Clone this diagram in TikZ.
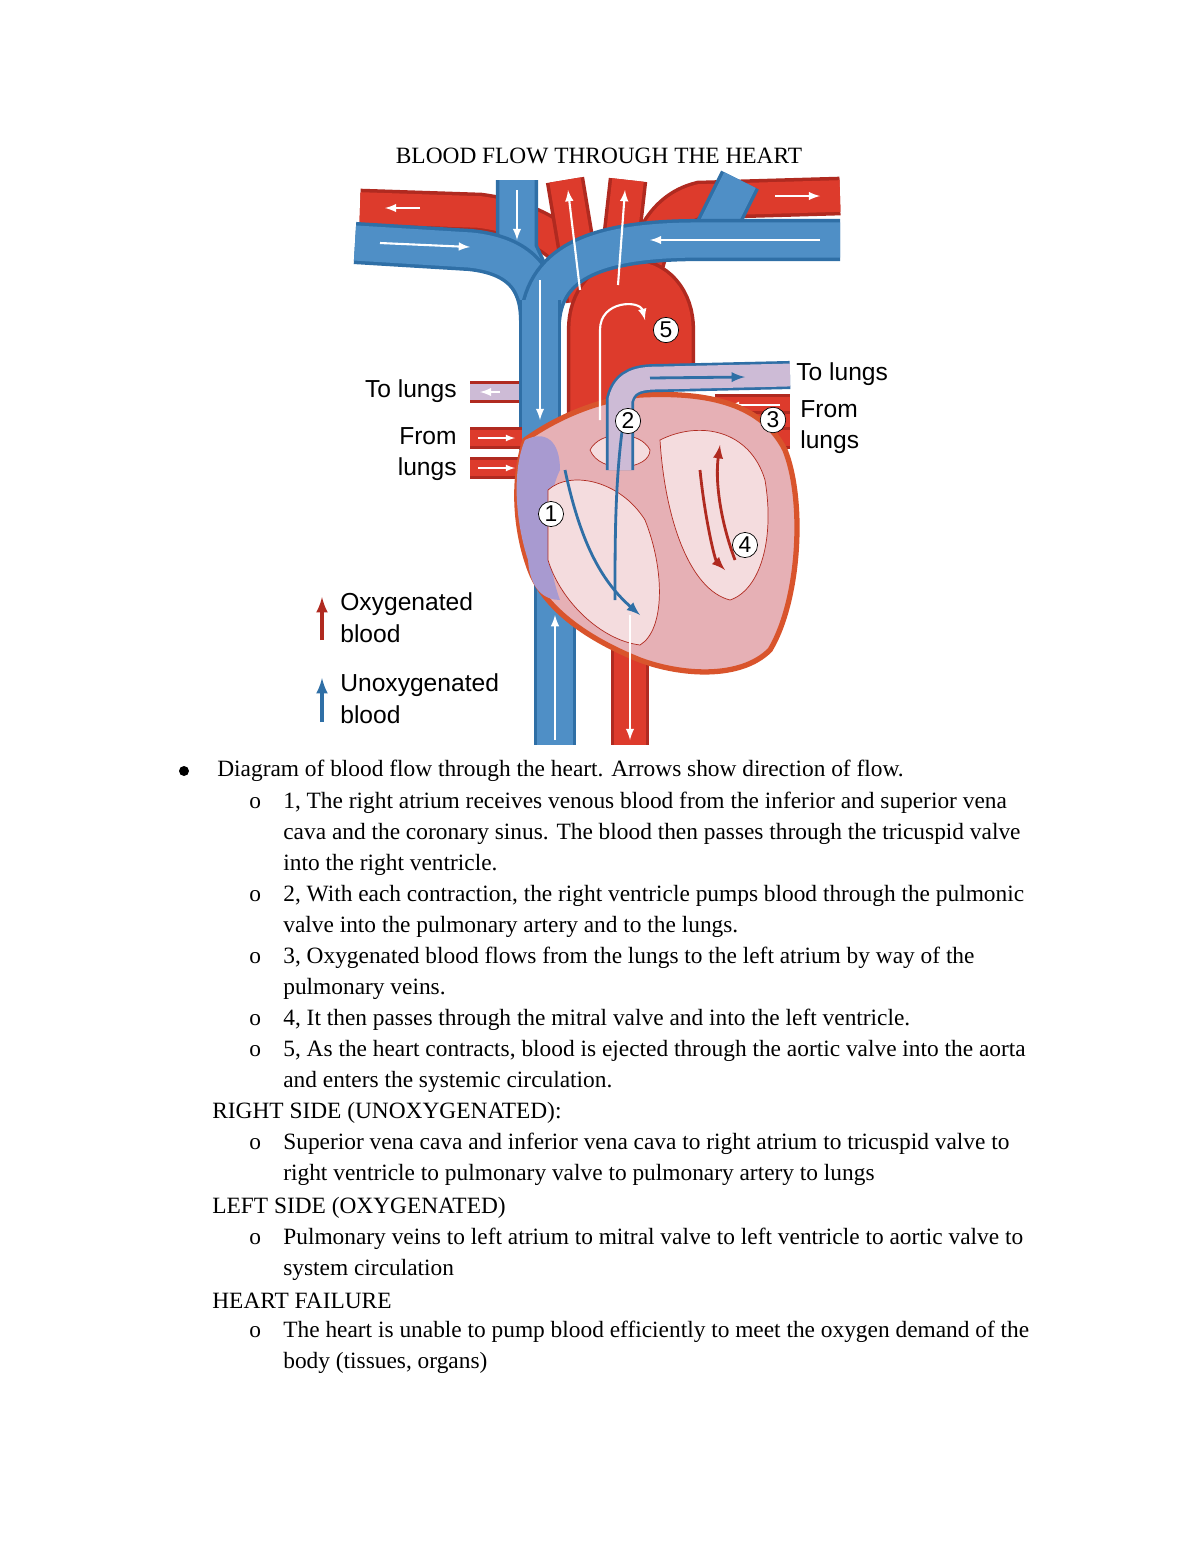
\documentclass[tikz,border=0pt]{standalone}
\usepackage{fontspec}
\setmainfont{Liberation Serif}
\newfontfamily\labelfont{Liberation Sans}
\definecolor{veinblue}{HTML}{4F8FC6}
\definecolor{veindark}{HTML}{2F6FA6}
\definecolor{artred}{HTML}{DD3B2C}
\definecolor{artdark}{HTML}{B02A20}
\definecolor{pulmo}{HTML}{CDBBD6}
\definecolor{heartpink}{HTML}{E6B0B5}
\definecolor{heartrim}{HTML}{D9542C}
\definecolor{chamber}{HTML}{F4DCDE}
\definecolor{atrium}{HTML}{A89AD0}
\tikzset{
  veinout/.style={line width=24pt, draw=veindark},
  veinin/.style={line width=20pt, draw=veinblue},
  artout/.style={line width=22pt, draw=artdark},
  artin/.style={line width=18pt, draw=artred},
  pulmout/.style={line width=12pt, draw=artdark},
  pulmin/.style={line width=9pt, draw=artred},
  flow/.style={->, >=latex, draw=white, line width=1.2pt},
  flowblue/.style={->, >=latex, draw=veindark, line width=1.6pt},
  flowred/.style={->, >=latex, draw=artdark, line width=1.6pt},
  numtag/.style={circle, draw=black, fill=white, inner sep=1pt, minimum size=13pt, font=\labelfont\fontsize{13}{13}\selectfont},
  lbl/.style={font=\labelfont\fontsize{14}{16}\selectfont, align=left, inner sep=0pt},
  txt/.style={anchor=west, inner sep=0pt, font=\fontsize{13.3}{17.6}\selectfont}
}
\begin{document}
\begin{tikzpicture}[x=0.02cm, y=-0.02cm]
\useasboundingbox (0,0) rectangle (1200,1553);
\node (title) at (599,156) [font=\fontsize{13.3}{16}\selectfont] {BLOOD FLOW THROUGH THE HEART};

% vessels behind the heart
\draw[artout] (630,600) -- (630,745);
\draw[artin] (630,600) -- (630,745);
\draw[veinout] (555,580) -- (555,745);
\draw[veinin] (555,580) -- (555,745);
\draw[pulmout] (470,392) -- (540,392);
\draw[line width=9pt, draw=pulmo] (470,392) -- (540,392);
% red branches at the top
\draw[artout] (360,208) -- (480,212) .. controls (540,220) and (585,250) .. (592,300);
\draw[artin] (360,208) -- (480,212) .. controls (540,220) and (585,250) .. (592,300);
\draw[artout] (565,180) -- (585,300);
\draw[artin] (565,180) -- (585,300);
\draw[artout] (628,180) -- (615,295);
\draw[artin] (628,180) -- (615,295);
\draw[artout] (840,196) -- (700,200) .. controls (660,210) and (645,250) .. (640,295);
\draw[artin] (840,196) -- (700,200) .. controls (660,210) and (645,250) .. (640,295);
% aortic arch
\draw[line width=40pt, draw=artdark] (602,440) -- (602,330) .. controls (602,280) and (660,280) .. (660,330) -- (660,390);
\draw[line width=36pt, draw=artred] (602,440) -- (602,330) .. controls (602,280) and (660,280) .. (660,330) -- (660,390);
% venae cavae (superior)
\draw[veinout] (517,180) -- (517,250) -- (540,300);
\draw[veinin] (517,180) -- (517,250) -- (540,300);
\draw[veinout] (355,243) -- (470,250) .. controls (520,255) and (540,280) .. (540,320);
\draw[veinin] (355,243) -- (470,250) .. controls (520,255) and (540,280) .. (540,320);
\draw[veinout] (740,180) -- (710,240);
\draw[veinin] (740,180) -- (710,240);
\draw[veinout] (840,240) -- (700,240) .. controls (600,240) and (545,260) .. (540,320);
\draw[veinin] (840,240) -- (700,240) .. controls (600,240) and (545,260) .. (540,320);
\draw[veinout] (540,300) -- (540,450);
\draw[veinin] (540,300) -- (540,450);
% pulmonary veins
\foreach \y in {438,468} {
  \draw[pulmout] (470,\y) -- (522,\y);
  \draw[pulmin] (470,\y) -- (522,\y);
  \draw[flow, line width=0.8pt] (478,\y) -- (515,\y);
}
\foreach \y in {405,422,438} {
  \draw[pulmout] (715,\y) -- (790,\y);
  \draw[pulmin] (715,\y) -- (790,\y);
  \draw[flow, line width=0.8pt] (780,\y) -- (730,\y);
}

% heart
\draw[draw=heartrim, line width=3pt, fill=heartpink]
  (525,440) .. controls (560,415) and (600,400) .. (640,395)
  .. controls (700,392) and (760,400) .. (785,450)
  .. controls (805,500) and (800,600) .. (770,650)
  .. controls (740,680) and (680,675) .. (640,660)
  .. controls (590,640) and (545,610) .. (530,570)
  .. controls (515,530) and (512,480) .. (525,440) -- cycle;
\fill[atrium] (525,440) .. controls (545,430) and (560,440) .. (560,470)
  .. controls (545,500) and (545,560) .. (560,600)
  .. controls (545,600) and (530,590) .. (528,560)
  .. controls (515,520) and (512,470) .. (525,440) -- cycle;
\draw[draw=artdark, fill=chamber] (548,490) .. controls (570,470) and (620,480) .. (645,520)
  .. controls (665,570) and (665,630) .. (640,645)
  .. controls (600,640) and (560,600) .. (548,560) -- cycle;
\draw[draw=artdark, fill=chamber] (660,440) .. controls (700,420) and (750,430) .. (765,480)
  .. controls (775,540) and (760,590) .. (730,600)
  .. controls (690,590) and (665,520) .. (660,440) -- cycle;
\draw[draw=artdark, fill=chamber] (590,450) .. controls (600,430) and (640,430) .. (650,450)
  .. controls (650,470) and (600,475) .. (590,450) -- cycle;
% pulmonary artery
\draw[draw=veindark, line width=16pt] (620,470) -- (620,400) .. controls (625,380) and (640,378) .. (660,378) -- (790,375);
\draw[draw=pulmo, line width=13pt] (620,470) -- (620,400) .. controls (625,380) and (640,378) .. (660,378) -- (790,375);
% flow arrows
\draw[flow] (540,280) -- (540,420);
\draw[flow] (555,740) -- (555,615);
\draw[flow] (630,615) -- (630,740);
\draw[flow] (420,208) -- (385,208);
\draw[flow] (775,196) -- (820,196);
\draw[flow] (380,243) -- (470,247);
\draw[flow] (820,240) -- (650,240);
\draw[flow] (517,190) -- (517,240);
\draw[flow] (580,290) -- (568,190);
\draw[flow] (618,285) -- (625,190);
\draw[flow] (600,420) -- (600,330) .. controls (600,300) and (640,300) .. (645,320);
\draw[flow] (500,392) -- (480,392);
\draw[flowblue] (650,378) -- (745,377);
\draw[flowblue] (565,470) .. controls (580,540) and (600,580) .. (640,615);
\draw[flowblue] (615,600) .. controls (615,540) and (615,480) .. (625,410);
\draw[flowred] (700,470) .. controls (705,520) and (715,560) .. (725,570);
\draw[flowred] (735,560) .. controls (720,520) and (715,480) .. (720,445);
% numbers
\node[numtag] (n1) at (551,514) {1};
\node[numtag] (n2) at (628,421) {2};
\node[numtag] (n3) at (773,420) {3};
\node[numtag] (n4) at (745,545) {4};
\node[numtag] (n5) at (666,330) {5};
% labels
\node[lbl, anchor=east] (tolungsL) at (457,391) {To lungs};
\node[lbl, anchor=east, align=right] (fromL) at (457,454) {From\\[2pt]lungs};
\node[lbl, anchor=west] (tolungsR) at (796,374) {To lungs};
\node[lbl, anchor=west] (fromR) at (800,427) {From\\[2pt]lungs};
% legend
\coordinate (oxbot) at (322,640);
\coordinate (oxtop) at (322,597);
\draw[->, >=latex, draw=artdark, line width=2pt] (oxbot) -- (oxtop);
\node[lbl, anchor=west] (oxy) at (340,618) {Oxygenated\\[2pt]blood};
\coordinate (unbot) at (322,722);
\coordinate (untop) at (322,678);
\draw[->, >=latex, draw=veindark, line width=2pt] (unbot) -- (untop);
\node[lbl, anchor=west] (unoxy) at (340,699) {Unoxygenated\\[2pt]blood};

% notes
\fill (184,771) circle (5);
\node[txt] (l0) at (217,771) {Diagram of blood flow through the heart. Arrows show direction of flow.};
\foreach \y in {803,896,958,1020,1051,1144,1239,1332} {
  \node[txt] at (249,\y) {o};
}
\node[txt] (l1) at (283,803) {1, The right atrium receives venous blood from the inferior and superior vena};
\node[txt] (l2) at (283,834) {cava and the coronary sinus. The blood then passes through the tricuspid valve};
\node[txt] (l3) at (283,865) {into the right ventricle.};
\node[txt] (l4) at (283,896) {2, With each contraction, the right ventricle pumps blood through the pulmonic};
\node[txt] (l5) at (283,927) {valve into the pulmonary artery and to the lungs.};
\node[txt] (l6) at (283,958) {3, Oxygenated blood flows from the lungs to the left atrium by way of the};
\node[txt] (l7) at (283,989) {pulmonary veins.};
\node[txt] (l8) at (283,1020) {4, It then passes through the mitral valve and into the left ventricle.};
\node[txt] (l9) at (283,1051) {5, As the heart contracts, blood is ejected through the aortic valve into the aorta};
\node[txt] (l10) at (283,1082) {and enters the systemic circulation.};
\node[txt] (h1) at (212,1113) {RIGHT SIDE (UNOXYGENATED):};
\node[txt] (l11) at (283,1144) {Superior vena cava and inferior vena cava to right atrium to tricuspid valve to};
\node[txt] (l12) at (283,1175) {right ventricle to pulmonary valve to pulmonary artery to lungs};
\node[txt] (h2) at (212,1208) {LEFT SIDE (OXYGENATED)};
\node[txt] (l13) at (283,1239) {Pulmonary veins to left atrium to mitral valve to left ventricle to aortic valve to};
\node[txt] (l14) at (283,1270) {system circulation};
\node[txt] (h3) at (212,1301) {HEART FAILURE};
\node[txt] (l15) at (283,1332) {The heart is unable to pump blood efficiently to meet the oxygen demand of the};
\node[txt] (l16) at (283,1363) {body (tissues, organs)};
\end{tikzpicture}
\end{document}
